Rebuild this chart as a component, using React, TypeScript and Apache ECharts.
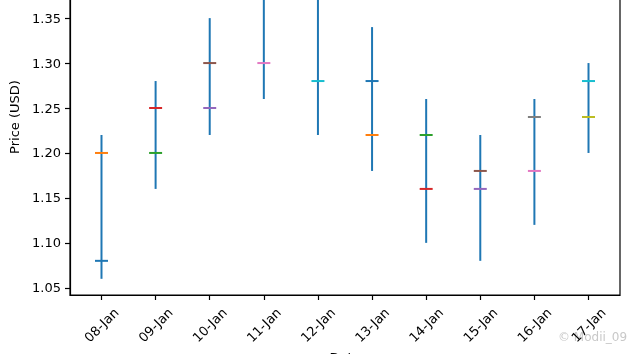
import React, { useEffect, useRef } from "react";
import * as echarts from "echarts";

const dates = ["08-Jan", "09-Jan", "10-Jan", "11-Jan", "12-Jan", "13-Jan", "14-Jan", "15-Jan", "16-Jan", "17-Jan"];
const openP = [1.08, 1.2, 1.25, 1.3, 1.38, 1.28, 1.22, 1.16, 1.18, 1.24];
const closeP = [1.2, 1.25, 1.3, 1.38, 1.28, 1.22, 1.16, 1.18, 1.24, 1.28];
const highP = [1.22, 1.28, 1.35, 1.42, 1.4, 1.34, 1.26, 1.22, 1.26, 1.3];
const lowP = [1.06, 1.16, 1.22, 1.26, 1.22, 1.18, 1.1, 1.08, 1.12, 1.2];
const yTicks = [1.05, 1.1, 1.15, 1.2, 1.25, 1.3, 1.35];
const xTicks = dates.map((_, i) => i);

const palette = ["#1f77b4", "#ff7f0e", "#2ca02c", "#d62728", "#9467bd", "#8c564b", "#e377c2", "#7f7f7f", "#bcbd22", "#17becf"];
const FONT = "DejaVu Sans";

export default function App() {
  const ref = useRef<HTMLDivElement>(null);
  useEffect(() => {
    if (!ref.current) return;
    const chart = echarts.init(ref.current, null, { renderer: "svg" });
    const data = dates.map((_, i) => [i, openP[i], closeP[i], lowP[i], highP[i]]);
    chart.setOption({
      animation: false,
      textStyle: { fontFamily: FONT },
      grid: {
        left: 70,
        right: 10,
        top: -61,
        bottom: 59,
        containLabel: false,
        outerBoundsMode: "none",
        show: true,
        borderColor: "#000",
        borderWidth: 1.2,
        backgroundColor: "transparent",
      },
      xAxis: {
        type: "value",
        min: -0.582,
        max: 9.582,
        name: "Date",
        nameLocation: "middle",
        nameGap: 56,
        nameTextStyle: { color: "#000", fontSize: 13, fontFamily: FONT },
        splitLine: { show: false },
        axisLine: { show: true, onZero: false, lineStyle: { color: "#000", width: 1.2 } },
        axisTick: { show: true, customValues: xTicks, length: 5, lineStyle: { color: "#000", width: 1.2 } },
        axisLabel: {
          customValues: xTicks,
          formatter: (v: number) => dates[Math.round(v)] ?? "",
          rotate: 45,
          align: "center",
          verticalAlign: "middle",
          margin: 30,
          color: "#000",
          fontSize: 13,
          fontFamily: FONT,
        },
      },
      yAxis: {
        type: "value",
        min: 1.042,
        max: 1.438,
        name: "Price (USD)",
        nameLocation: "middle",
        nameGap: 47,
        nameTextStyle: { color: "#000", fontSize: 13, fontFamily: FONT },
        splitLine: { show: false },
        axisLine: { show: true, onZero: false, lineStyle: { color: "#000", width: 1.2 } },
        axisTick: { show: true, customValues: yTicks, length: 5, lineStyle: { color: "#000", width: 1.2 } },
        axisLabel: {
          customValues: yTicks,
          formatter: (v: number) => v.toFixed(2),
          margin: 9,
          color: "#000",
          fontSize: 13,
          fontFamily: FONT,
        },
      },
      series: [
        {
          type: "custom",
          clip: true,
          data,
          renderItem: (params: any, api: any) => {
            const i = api.value(0);
            const o = api.value(1);
            const c = api.value(2);
            const l = api.value(3);
            const h = api.value(4);
            const top = api.coord([i, h]);
            const bot = api.coord([i, l]);
            const oc = api.coord([i, o]);
            const cc = api.coord([i, c]);
            const hw = api.size([0.12, 0])[0];
            return {
              type: "group",
              children: [
                {
                  type: "line",
                  shape: { x1: top[0], y1: top[1], x2: bot[0], y2: bot[1] },
                  style: { stroke: "#1f77b4", lineWidth: 2 },
                },
                {
                  type: "line",
                  shape: { x1: oc[0] - hw, y1: oc[1], x2: oc[0] + hw, y2: oc[1] },
                  style: { stroke: palette[(2 * i) % 10], lineWidth: 2 },
                },
                {
                  type: "line",
                  shape: { x1: cc[0] - hw, y1: cc[1], x2: cc[0] + hw, y2: cc[1] },
                  style: { stroke: palette[(2 * i + 1) % 10], lineWidth: 2 },
                },
              ],
            };
          },
        },
      ],
      graphic: [
        {
          type: "text",
          left: 558,
          top: 331,
          style: { text: "© Modii_09", fill: "rgba(190,190,190,0.85)", font: `12px ${FONT}` },
          silent: true,
        },
      ],
    });
    return () => chart.dispose();
  }, []);
  return <div ref={ref} style={{ position: "fixed", left: 0, top: 0, width: 630, height: 354 }} />;
}
